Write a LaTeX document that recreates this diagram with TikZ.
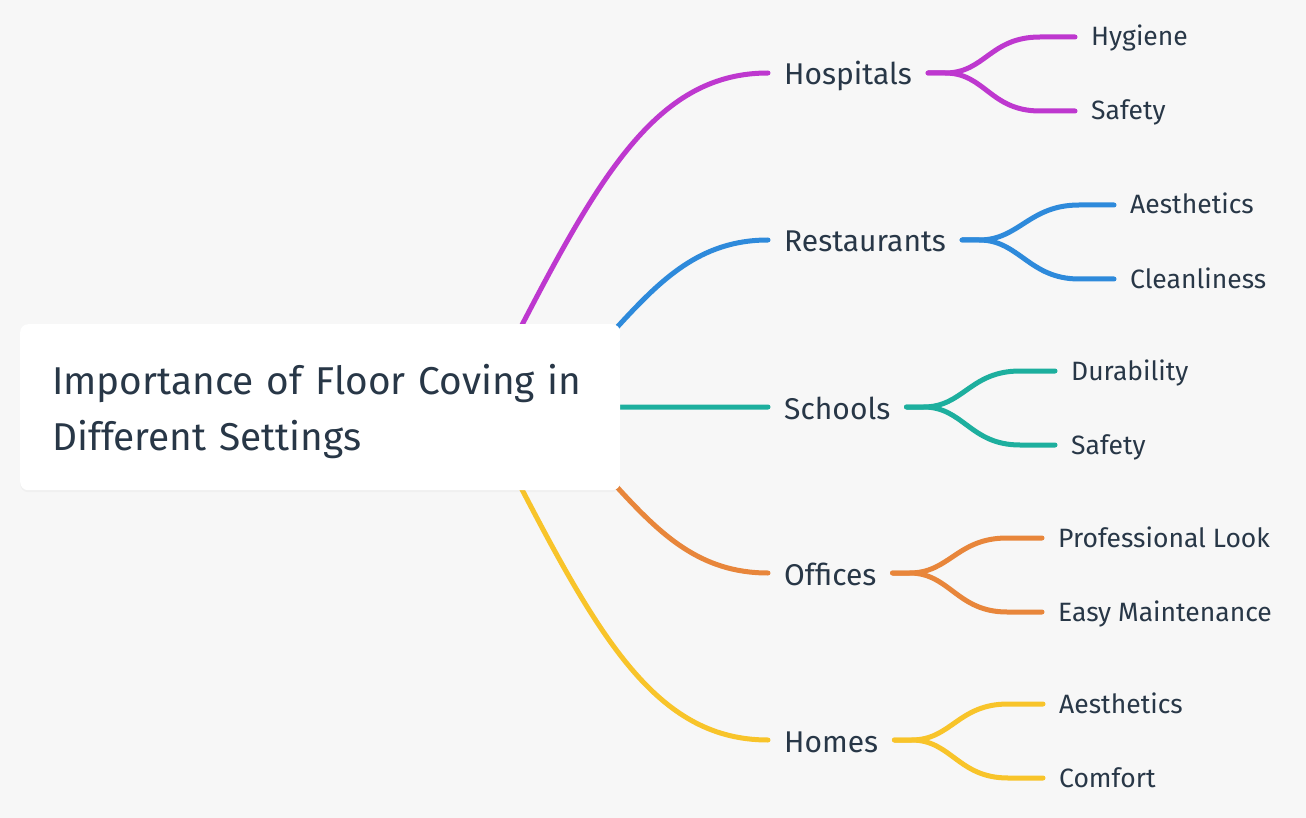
\documentclass[tikz,border=0pt]{standalone}
\usepackage{fontspec}
\setmainfont{Fira Sans}
\usetikzlibrary{shadows}
\pgfdeclarelayer{backl}
\pgfdeclarelayer{midl}
\pgfsetlayers{backl,midl,main}
\definecolor{bgc}{HTML}{F7F7F7}
\definecolor{txt}{HTML}{283747}
\definecolor{cmag}{HTML}{BE38CF}
\definecolor{cblue}{HTML}{2E8ADB}
\definecolor{cteal}{HTML}{1DAF9E}
\definecolor{corange}{HTML}{E8863B}
\definecolor{cyellow}{HTML}{F8C42A}
\tikzset{
  rootbox/.style={draw=none, fill=white, rounded corners=8pt, anchor=north west,
    minimum width=600pt, minimum height=166pt, text width=536pt, align=left,
    inner xsep=32pt, text=txt, font=\fontsize{38.8}{56}\selectfont,
    drop shadow={opacity=0.05, shadow xshift=0pt, shadow yshift=-2pt}},
  mainlbl/.style={anchor=west, inner xsep=16pt, inner ysep=0pt, text=txt,
    font=\fontsize{30}{32}\selectfont, text height=24pt, text depth=0pt},
  sublbl/.style={anchor=west, inner xsep=16pt, inner ysep=0pt, text=txt,
    font=\fontsize{26.5}{28}\selectfont, text height=18pt, text depth=0pt},
  branch/.style={line width=5pt, line cap=round},
}
\begin{document}
\begin{tikzpicture}[x=1pt,y=-1pt]
\begin{pgfonlayer}{backl}
\fill[bgc] (0,0) rectangle (1306,818);
\end{pgfonlayer}
\useasboundingbox (0,0) rectangle (1306,818);

\node[rootbox] (root) at (20,324) {Importance of Floor Coving in Different Settings\par\vspace*{-8pt}};

% main labels
\node[mainlbl] (hosp) at (768,73) {Hospitals};
\node[mainlbl] (rest) at (768,240) {Restaurants};
\node[mainlbl] (scho) at (768,407) {Schools};
\node[mainlbl] (offi) at (768,573) {Offices};
\node[mainlbl] (home) at (768,740) {Homes};

% sub labels
\node[sublbl] (hyg) at (1075,37) {Hygiene};
\node[sublbl] (hsaf) at (1075,111) {Safety};
\node[sublbl] (raes) at (1114,205) {Aesthetics};
\node[sublbl] (rcln) at (1114,279) {Cleanliness};
\node[sublbl] (sdur) at (1055,371) {Durability};
\node[sublbl] (ssaf) at (1055,445) {Safety};
\node[sublbl] (opro) at (1042,538) {Professional Look};
\node[sublbl] (oeas) at (1042,612) {Easy Maintenance};
\node[sublbl] (haes) at (1043,704) {Aesthetics};
\node[sublbl] (hcom) at (1043,778) {Comfort};

\begin{pgfonlayer}{midl}
% main branches
\draw[branch, cmag] ([xshift=-100pt,yshift=-4pt]root.north east) .. controls +(82,-158) and +(-108,0) .. (hosp.west);
\draw[branch, cblue] ([xshift=-4pt,yshift=-4pt]root.north east) .. controls +(44,-48) and +(-68,0) .. (rest.west);
\draw[branch, cteal] ([xshift=-6pt]root.east) -- (scho.west);
\draw[branch, corange] ([xshift=-4pt,yshift=4pt]root.south east) .. controls +(44,48) and +(-68,0) .. (offi.west);
\draw[branch, cyellow] ([xshift=-100pt,yshift=4pt]root.south east) .. controls +(82,158) and +(-108,0) .. (home.west);
\end{pgfonlayer}

% sub branches
\foreach \p/\a/\b/\c in {hosp/hyg/hsaf/cmag, rest/raes/rcln/cblue, scho/sdur/ssaf/cteal, offi/opro/oeas/corange, home/haes/hcom/cyellow}{
  \draw[branch, \c] (\p.east) -- ++(17,0) .. controls +(40,0) and +(-50,0) .. ([xshift=-35pt]\a.west) -- (\a.west);
  \draw[branch, \c] (\p.east) -- ++(17,0) .. controls +(40,0) and +(-50,0) .. ([xshift=-35pt]\b.west) -- (\b.west);
}
\end{tikzpicture}
\end{document}
